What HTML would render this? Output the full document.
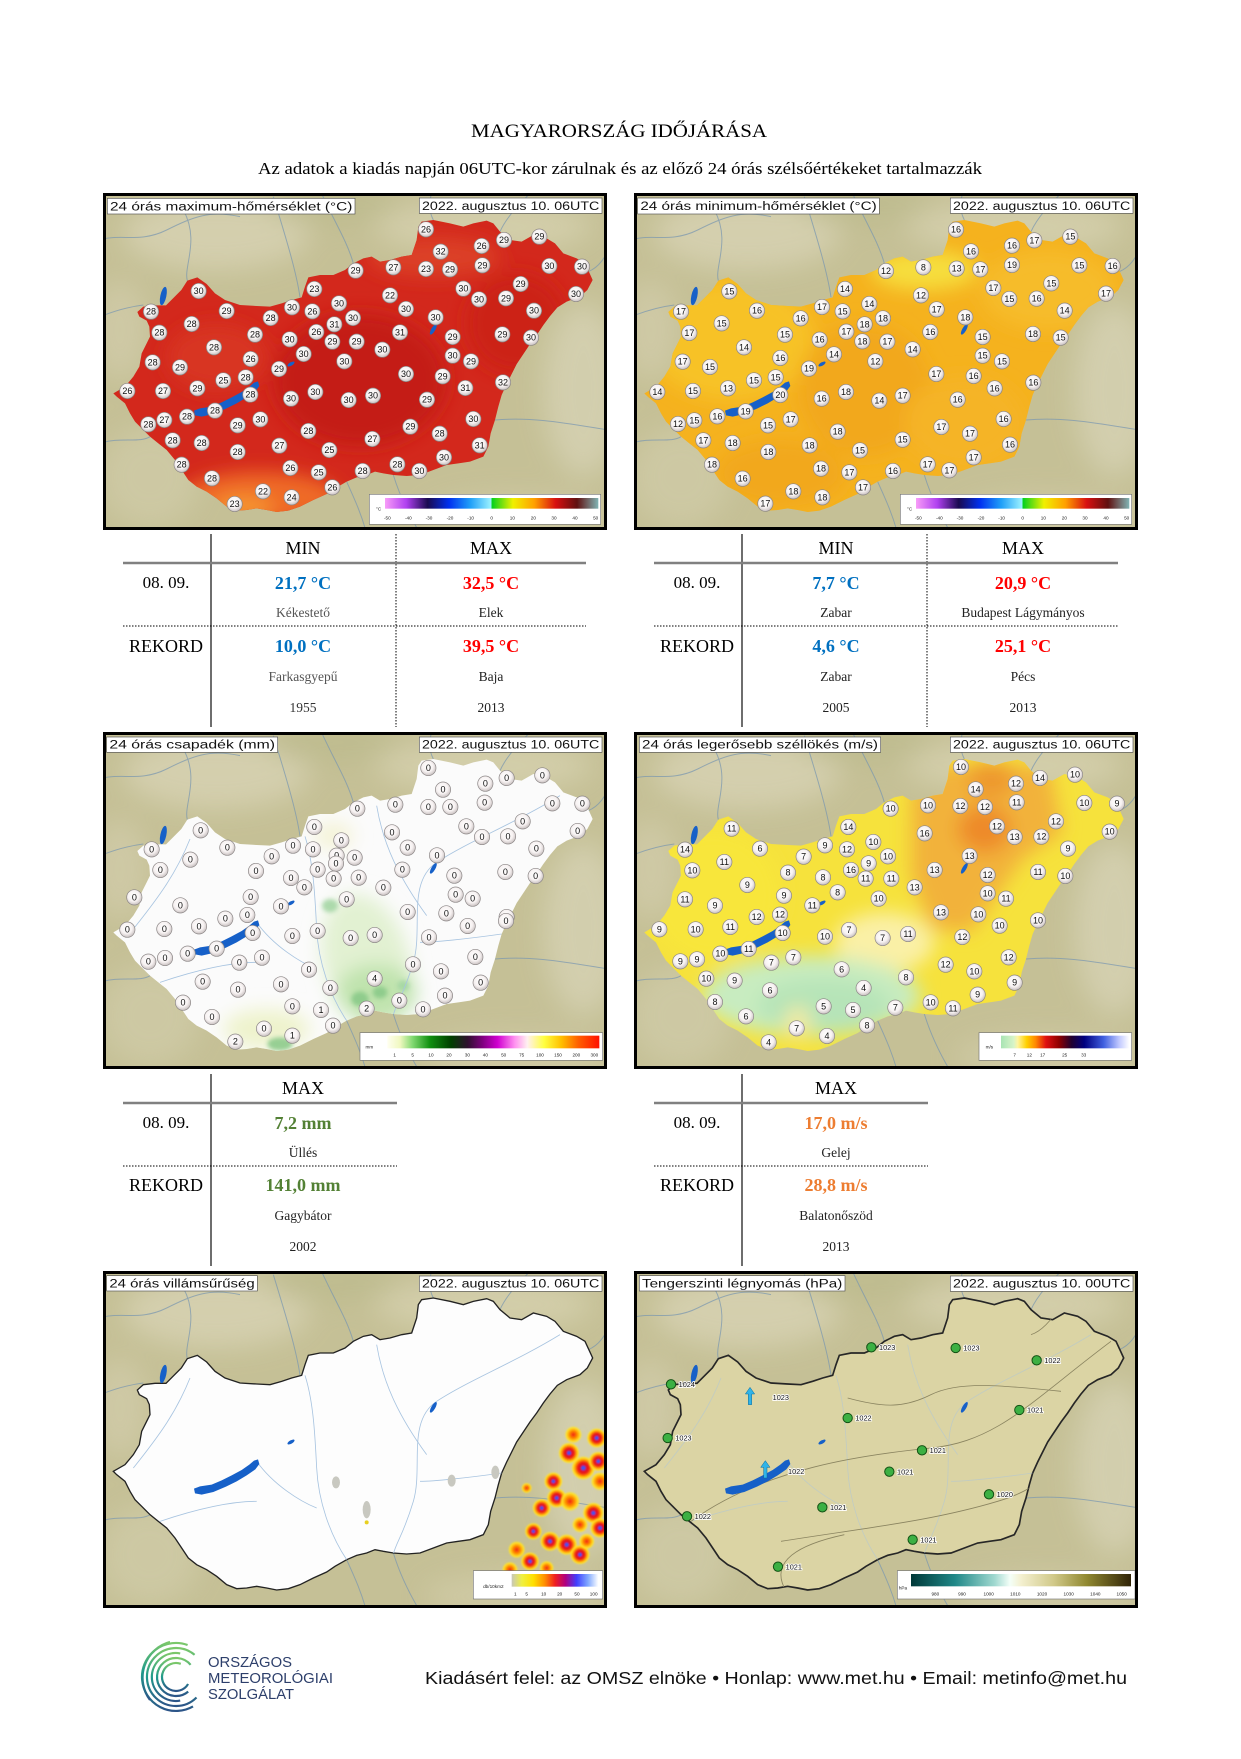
<!DOCTYPE html>
<html><head><meta charset="utf-8">
<style>
html,body{margin:0;padding:0;background:#fff}
body{width:1241px;height:1754px;overflow:hidden}
svg text{font-family:"Liberation Sans",sans-serif}
.sf{font-family:"Liberation Serif",serif}
.st circle{fill:url(#sg);stroke:#8a8585;stroke-width:2}
.st text{font-size:27px;text-anchor:middle;fill:#111}
.tb{fill:#fff;stroke:#555;stroke-width:2}
.tt{font-size:37px;fill:#111}
.lg{font-size:14px;fill:#222;text-anchor:middle}
.pr circle{fill:#3cb043;stroke:#145214;stroke-width:3}
.pr text{font-size:22px;fill:#111;stroke:#fff;stroke-width:5;paint-order:stroke}
.tc{text-anchor:middle}
</style></head><body>
<svg width="1241" height="1754" viewBox="0 0 1241 1754" xmlns="http://www.w3.org/2000/svg">
<defs>
<path id="hu" d="M40,610 L75,590 100,560 118,530 125,490 140,460 150,440 148,410 140,392 118,380 112,366 130,350 165,346 198,346 222,322 244,300 262,272 292,262 320,282 345,310 375,330 420,345 470,348 510,350 545,340 575,330 605,322 615,290 625,262 660,255 700,255 735,240 760,220 790,205 815,200 840,215 870,210 905,200 935,195 950,150 955,110 965,95 1000,90 1050,100 1090,110 1120,100 1160,92 1180,100 1200,125 1230,150 1265,155 1300,135 1340,145 1365,160 1390,190 1430,205 1455,220 1468,248 1478,270 1462,300 1440,320 1400,335 1372,352 1350,378 1330,405 1310,435 1290,462 1270,492 1250,522 1235,552 1220,582 1205,615 1195,650 1185,690 1172,730 1165,770 1150,800 1110,815 1075,820 1040,825 1000,840 960,855 920,858 880,855 850,850 825,845 800,855 770,862 740,875 705,895 680,912 640,930 600,950 565,962 530,966 500,960 470,955 440,960 410,962 380,950 350,925 320,905 290,890 265,870 245,840 225,810 200,780 175,760 150,740 125,715 105,695 90,670 75,640 50,620 Z"/>
<clipPath id="cl"><use href="#hu"/></clipPath>
<filter id="bl" x="-50%" y="-50%" width="200%" height="200%"><feGaussianBlur stdDeviation="28"/></filter>
<filter id="bl2" x="-50%" y="-50%" width="200%" height="200%"><feGaussianBlur stdDeviation="40"/></filter>
<filter id="bl3" x="-50%" y="-50%" width="200%" height="200%"><feGaussianBlur stdDeviation="6"/></filter>
<filter id="bl4" x="-50%" y="-50%" width="200%" height="200%"><feGaussianBlur stdDeviation="2.5"/></filter>
<radialGradient id="sg" cx="45%" cy="40%" r="60%"><stop offset="0" stop-color="#ffffff"/><stop offset=".6" stop-color="#f7f2f2"/><stop offset="1" stop-color="#c9c1c1"/></radialGradient>
<radialGradient id="storm"><stop offset="0" stop-color="#5070ff"/><stop offset=".14" stop-color="#3048e8"/><stop offset=".24" stop-color="#d81030"/><stop offset=".48" stop-color="#f02010"/><stop offset=".68" stop-color="#ff9a00"/><stop offset=".86" stop-color="#ffe428"/><stop offset="1" stop-color="#ffe428" stop-opacity="0"/></radialGradient>
<radialGradient id="storm2"><stop offset="0" stop-color="#f02010"/><stop offset=".45" stop-color="#ff9000"/><stop offset=".8" stop-color="#ffe428"/><stop offset="1" stop-color="#ffe428" stop-opacity="0"/></radialGradient>
<linearGradient id="gT"><stop offset="0" stop-color="#f89cf8"/><stop offset=".1" stop-color="#b040f0"/><stop offset=".2" stop-color="#1a0a50"/><stop offset=".3" stop-color="#0030f0"/><stop offset=".4" stop-color="#20a0f8"/><stop offset=".5" stop-color="#a0f4ff"/><stop offset=".5" stop-color="#00d020"/><stop offset=".6" stop-color="#f0f000"/><stop offset=".7" stop-color="#ffa000"/><stop offset=".8" stop-color="#d81010"/><stop offset=".9" stop-color="#601010"/><stop offset="1" stop-color="#80b4b4"/></linearGradient>
<linearGradient id="gP"><stop offset="0" stop-color="#fffff0"/><stop offset=".06" stop-color="#f0f8c0"/><stop offset=".12" stop-color="#80d870"/><stop offset=".2" stop-color="#109010"/><stop offset=".3" stop-color="#004000"/><stop offset=".38" stop-color="#301030"/><stop offset=".45" stop-color="#800080"/><stop offset=".52" stop-color="#d000d0"/><stop offset=".6" stop-color="#ff90f0"/><stop offset=".66" stop-color="#fff0f0"/><stop offset=".74" stop-color="#ffff40"/><stop offset=".82" stop-color="#ffc000"/><stop offset=".9" stop-color="#ff6000"/><stop offset="1" stop-color="#ff1000"/></linearGradient>
<linearGradient id="gW"><stop offset="0" stop-color="#a8e4b4"/><stop offset=".1" stop-color="#d8f4c8"/><stop offset=".13" stop-color="#fff4a0"/><stop offset=".2" stop-color="#ffd000"/><stop offset=".27" stop-color="#ff8800"/><stop offset=".35" stop-color="#e01010"/><stop offset=".45" stop-color="#900000"/><stop offset=".55" stop-color="#200030"/><stop offset=".65" stop-color="#000080"/><stop offset=".8" stop-color="#4060e0"/><stop offset=".92" stop-color="#c0c8ff"/><stop offset="1" stop-color="#ffffff"/></linearGradient>
<linearGradient id="gL"><stop offset="0" stop-color="#c8c8b8"/><stop offset=".12" stop-color="#f0f040"/><stop offset=".25" stop-color="#ffe000"/><stop offset=".38" stop-color="#ff9000"/><stop offset=".5" stop-color="#f02020"/><stop offset=".62" stop-color="#b00080"/><stop offset=".75" stop-color="#4040ff"/><stop offset=".88" stop-color="#80a8ff"/><stop offset="1" stop-color="#ffffff"/></linearGradient>
<linearGradient id="gH"><stop offset="0" stop-color="#003838"/><stop offset=".2" stop-color="#208888"/><stop offset=".38" stop-color="#a0d8d0"/><stop offset=".45" stop-color="#f4fff8"/><stop offset=".5" stop-color="#f4f0d0"/><stop offset=".65" stop-color="#d0c888"/><stop offset=".8" stop-color="#908830"/><stop offset="1" stop-color="#302408"/></linearGradient>
<linearGradient id="logo" x1="0" y1="0" x2="0" y2="1"><stop offset="0" stop-color="#7cc86a"/><stop offset=".5" stop-color="#1f9a8c"/><stop offset="1" stop-color="#2c5488"/></linearGradient>
<g id="terr">
<rect x="0" y="0" width="1530" height="1030" fill="#c5c096"/>
<g filter="url(#bl2)" opacity=".85">
<ellipse cx="350" cy="130" rx="280" ry="110" fill="#d7d2b2"/>
<ellipse cx="1150" cy="110" rx="330" ry="80" fill="#d5d0ad"/>
<ellipse cx="1450" cy="600" rx="120" ry="260" fill="#d5d1b2"/>
<ellipse cx="1250" cy="985" rx="280" ry="70" fill="#d0cba6"/>
<ellipse cx="150" cy="860" rx="150" ry="150" fill="#cfcaa6"/>
<ellipse cx="60" cy="420" rx="80" ry="150" fill="#d0cba8"/>
<ellipse cx="700" cy="40" rx="200" ry="60" fill="#bdbb8e"/>
</g>
<g fill="none" stroke="#7896b0" stroke-width="3" opacity=".7">
<path d="M0,150 C60,130 120,160 200,120 S330,60 420,80"/>
<path d="M0,380 C50,360 90,350 130,345"/>
<path d="M600,322 C590,250 560,150 520,20"/>
<path d="M760,220 C740,150 700,90 660,0"/>
<path d="M1465,245 C1500,230 1515,200 1525,180"/>
<path d="M1185,690 C1300,680 1400,700 1525,720"/>
<path d="M740,875 C760,920 780,960 800,1030"/>
<path d="M0,760 C60,740 120,760 150,740"/>
<path d="M1000,90 C980,50 990,20 1000,0"/>
<path d="M250,60 C300,150 250,230 262,272"/>
<path d="M880,855 C900,920 930,980 960,1030"/>
<path d="M1200,125 C1220,80 1260,40 1300,0"/>
</g>
</g>
<g id="irv" fill="none" stroke="#a8c4e0" stroke-width="2.5">
<path d="M615,322 C640,400 645,500 650,600 S690,800 740,875"/>
<path d="M1380,200 C1250,280 1100,340 1010,400 S970,600 940,700 S890,820 880,858"/>
<path d="M100,600 C180,500 230,430 270,330"/>
<path d="M1205,615 C1100,630 1000,640 960,640"/>
<path d="M470,580 C520,650 600,700 650,720"/>
<path d="M830,230 C850,350 900,450 980,560"/>
<path d="M180,760 C300,720 400,700 470,700"/>
</g>
<g id="lakes" fill="#1660c8">
<path d="M282,662 L300,655 335,650 365,637 395,622 425,606 448,590 462,578 474,574 478,588 466,604 440,622 410,640 378,656 340,672 305,680 285,676 Z"/>
<ellipse cx="190" cy="318" rx="9" ry="28" transform="rotate(12 190 318)"/>
<ellipse cx="573" cy="522" rx="12" ry="5" transform="rotate(-30 573 522)"/>
<ellipse cx="1000" cy="418" rx="6" ry="18" transform="rotate(30 1000 418)"/>
</g>
<g id="legT">
<rect x="808" y="913" width="694" height="90" fill="#fff" stroke="#777" stroke-width="2"/>
<rect x="855" y="924" width="640" height="32" fill="url(#gT)"/>
<text class="lg" x="836" y="962">°C</text>
<text class="lg" x="862" y="988">-50</text><text class="lg" x="925" y="988">-40</text><text class="lg" x="987" y="988">-30</text><text class="lg" x="1050" y="988">-20</text><text class="lg" x="1112" y="988">-10</text><text class="lg" x="1175" y="988">0</text><text class="lg" x="1237" y="988">10</text><text class="lg" x="1300" y="988">20</text><text class="lg" x="1362" y="988">30</text><text class="lg" x="1425" y="988">40</text><text class="lg" x="1487" y="988">50</text>
</g>
<g id="rbox"><rect class="tb" x="958" y="24" width="548" height="46"/></g>
<rect id="frame" x="9" y="9" width="1512" height="1011" fill="none" stroke="#000" stroke-width="18"/>
</defs>

<!-- Titles -->
<text class="sf tc" x="619" y="137" font-size="19" textLength="296" lengthAdjust="spacingAndGlyphs">MAGYARORSZÁG IDŐJÁRÁSA</text>
<text class="sf tc" x="620" y="174" font-size="16.5" textLength="724" lengthAdjust="spacingAndGlyphs">Az adatok a kiadás napján 06UTC-kor zárulnak és az előző 24 órás szélsőértékeket tartalmazzák</text>

<!-- MAP 1 : max temp -->
<svg x="103" y="193" width="504" height="337" viewBox="9 9 1512 1011" preserveAspectRatio="none">
<use href="#terr"/>
<g clip-path="url(#cl)">
<rect x="0" y="0" width="1530" height="1030" fill="#d3281c"/>
<g filter="url(#bl)">
<ellipse cx="780" cy="570" rx="260" ry="200" fill="#c41c16"/>
<ellipse cx="1250" cy="400" rx="150" ry="150" fill="#cc2018"/>
<ellipse cx="480" cy="925" rx="240" ry="80" fill="#ef6a26"/>
<ellipse cx="430" cy="955" rx="90" ry="40" fill="#f59432"/>
<ellipse cx="1000" cy="200" rx="200" ry="60" fill="#dc4028"/>
<ellipse cx="350" cy="500" rx="150" ry="100" fill="#d83420"/>
</g>
</g>
<use href="#lakes"/>
<g class="st">
<circle cx="978" cy="118" r="23"/><text x="978" y="127">26</text><circle cx="1022" cy="185" r="23"/><text x="1022" y="194">32</text><circle cx="1145" cy="168" r="23"/><text x="1145" y="177">26</text><circle cx="1212" cy="150" r="23"/><text x="1212" y="159">29</text><circle cx="1318" cy="140" r="23"/><text x="1318" y="149">29</text>
<circle cx="767" cy="242" r="23"/><text x="767" y="251">29</text><circle cx="880" cy="232" r="23"/><text x="880" y="241">27</text><circle cx="978" cy="237" r="23"/><text x="978" y="246">23</text><circle cx="1050" cy="238" r="23"/><text x="1050" y="247">29</text><circle cx="1147" cy="226" r="23"/><text x="1147" y="235">29</text><circle cx="1348" cy="228" r="23"/><text x="1348" y="237">30</text><circle cx="1446" cy="230" r="23"/><text x="1446" y="239">30</text>
<circle cx="643" cy="297" r="23"/><text x="643" y="306">23</text><circle cx="870" cy="316" r="23"/><text x="870" y="325">22</text><circle cx="1090" cy="296" r="23"/><text x="1090" y="305">30</text><circle cx="1137" cy="328" r="23"/><text x="1137" y="337">30</text><circle cx="1218" cy="325" r="23"/><text x="1218" y="334">29</text><circle cx="1262" cy="282" r="23"/><text x="1262" y="291">29</text><circle cx="1428" cy="312" r="23"/><text x="1428" y="321">30</text>
<circle cx="296" cy="303" r="23"/><text x="296" y="312">30</text><circle cx="380" cy="363" r="23"/><text x="380" y="372">29</text><circle cx="153" cy="365" r="23"/><text x="153" y="374">28</text><circle cx="512" cy="384" r="23"/><text x="512" y="393">28</text><circle cx="576" cy="352" r="23"/><text x="576" y="361">30</text><circle cx="637" cy="364" r="23"/><text x="637" y="373">26</text><circle cx="717" cy="340" r="23"/><text x="717" y="349">30</text><circle cx="759" cy="384" r="23"/><text x="759" y="393">30</text><circle cx="703" cy="403" r="23"/><text x="703" y="412">31</text><circle cx="918" cy="357" r="23"/><text x="918" y="366">30</text><circle cx="1007" cy="382" r="23"/><text x="1007" y="391">30</text><circle cx="1302" cy="362" r="23"/><text x="1302" y="371">30</text>
<circle cx="275" cy="402" r="23"/><text x="275" y="411">28</text><circle cx="178" cy="428" r="23"/><text x="178" y="437">28</text><circle cx="465" cy="434" r="23"/><text x="465" y="443">28</text><circle cx="342" cy="472" r="23"/><text x="342" y="481">28</text><circle cx="569" cy="448" r="23"/><text x="569" y="457">30</text><circle cx="649" cy="426" r="23"/><text x="649" y="435">26</text><circle cx="697" cy="455" r="23"/><text x="697" y="464">29</text><circle cx="770" cy="455" r="23"/><text x="770" y="464">29</text><circle cx="900" cy="427" r="23"/><text x="900" y="436">31</text><circle cx="1058" cy="441" r="23"/><text x="1058" y="450">29</text><circle cx="1207" cy="433" r="23"/><text x="1207" y="442">29</text><circle cx="1293" cy="443" r="23"/><text x="1293" y="452">30</text>
<circle cx="158" cy="517" r="23"/><text x="158" y="526">28</text><circle cx="240" cy="532" r="23"/><text x="240" y="541">29</text><circle cx="452" cy="507" r="23"/><text x="452" y="516">26</text><circle cx="537" cy="537" r="23"/><text x="537" y="546">29</text><circle cx="611" cy="492" r="23"/><text x="611" y="501">30</text><circle cx="733" cy="514" r="23"/><text x="733" y="523">30</text><circle cx="847" cy="479" r="23"/><text x="847" y="488">30</text><circle cx="1058" cy="497" r="23"/><text x="1058" y="506">30</text><circle cx="1113" cy="514" r="23"/><text x="1113" y="523">29</text>
<circle cx="82" cy="603" r="23"/><text x="82" y="612">26</text><circle cx="189" cy="603" r="23"/><text x="189" y="612">27</text><circle cx="292" cy="595" r="23"/><text x="292" y="604">29</text><circle cx="370" cy="571" r="23"/><text x="370" y="580">25</text><circle cx="437" cy="562" r="23"/><text x="437" y="571">28</text><circle cx="451" cy="614" r="23"/><text x="451" y="623">28</text><circle cx="573" cy="626" r="23"/><text x="573" y="635">30</text><circle cx="646" cy="606" r="23"/><text x="646" y="615">30</text><circle cx="746" cy="630" r="23"/><text x="746" y="639">30</text><circle cx="819" cy="617" r="23"/><text x="819" y="626">30</text><circle cx="918" cy="552" r="23"/><text x="918" y="561">30</text><circle cx="1028" cy="559" r="23"/><text x="1028" y="568">29</text><circle cx="981" cy="629" r="23"/><text x="981" y="638">29</text><circle cx="1096" cy="594" r="23"/><text x="1096" y="603">31</text><circle cx="1209" cy="577" r="23"/><text x="1209" y="586">32</text>
<circle cx="145" cy="703" r="23"/><text x="145" y="712">28</text><circle cx="193" cy="690" r="23"/><text x="193" y="699">27</text><circle cx="261" cy="680" r="23"/><text x="261" y="689">28</text><circle cx="345" cy="662" r="23"/><text x="345" y="671">28</text><circle cx="413" cy="706" r="23"/><text x="413" y="715">29</text><circle cx="481" cy="688" r="23"/><text x="481" y="697">30</text><circle cx="625" cy="723" r="23"/><text x="625" y="732">28</text><circle cx="817" cy="747" r="23"/><text x="817" y="756">27</text><circle cx="931" cy="710" r="23"/><text x="931" y="719">29</text><circle cx="1019" cy="731" r="23"/><text x="1019" y="740">28</text><circle cx="1120" cy="687" r="23"/><text x="1120" y="696">30</text>
<circle cx="218" cy="751" r="23"/><text x="218" y="760">28</text><circle cx="305" cy="759" r="23"/><text x="305" y="768">28</text><circle cx="413" cy="786" r="23"/><text x="413" y="795">28</text><circle cx="538" cy="767" r="23"/><text x="538" y="776">27</text><circle cx="688" cy="780" r="23"/><text x="688" y="789">25</text><circle cx="1139" cy="766" r="23"/><text x="1139" y="775">31</text><circle cx="1032" cy="802" r="23"/><text x="1032" y="811">30</text>
<circle cx="245" cy="824" r="23"/><text x="245" y="833">28</text><circle cx="336" cy="865" r="23"/><text x="336" y="874">28</text><circle cx="571" cy="834" r="23"/><text x="571" y="843">26</text><circle cx="656" cy="847" r="23"/><text x="656" y="856">25</text><circle cx="788" cy="843" r="23"/><text x="788" y="852">28</text><circle cx="892" cy="823" r="23"/><text x="892" y="832">28</text><circle cx="958" cy="843" r="23"/><text x="958" y="852">30</text>
<circle cx="697" cy="892" r="23"/><text x="697" y="901">26</text><circle cx="489" cy="904" r="23"/><text x="489" y="913">22</text><circle cx="575" cy="922" r="23"/><text x="575" y="931">24</text><circle cx="404" cy="942" r="23"/><text x="404" y="951">23</text>
</g>
<rect class="tb" x="22" y="25" width="743" height="47"/><text class="tt" x="30" y="61" textLength="727" lengthAdjust="spacingAndGlyphs">24 órás maximum-hőmérséklet (°C)</text>
<use href="#rbox"/><text class="tt" x="966" y="60" textLength="532" lengthAdjust="spacingAndGlyphs">2022. augusztus 10. 06UTC</text>
<use href="#legT"/>
<use href="#frame"/>
</svg>

<!-- MAP 2 : min temp -->
<svg x="634" y="193" width="504" height="337" viewBox="9 9 1512 1011" preserveAspectRatio="none">
<use href="#terr"/>
<g clip-path="url(#cl)">
<rect x="0" y="0" width="1530" height="1030" fill="#f5b21e"/>
<g filter="url(#bl)">
<ellipse cx="300" cy="450" rx="250" ry="180" fill="#f7c226"/>
<ellipse cx="880" cy="240" rx="160" ry="60" fill="#f6de3c"/>
<ellipse cx="1250" cy="300" rx="200" ry="120" fill="#f6bc2c"/>
<ellipse cx="700" cy="600" rx="200" ry="200" fill="#f2a81e"/>
<ellipse cx="450" cy="850" rx="200" ry="100" fill="#f2a81c"/>
<ellipse cx="1000" cy="700" rx="180" ry="140" fill="#f5b426"/>
</g>
</g>
<use href="#lakes"/>
<g class="st">
<circle cx="975" cy="119" r="23"/><text x="975" y="128">16</text><circle cx="1143" cy="167" r="23"/><text x="1143" y="176">16</text><circle cx="1210" cy="151" r="23"/><text x="1210" y="160">17</text><circle cx="1318" cy="140" r="23"/><text x="1318" y="149">15</text><circle cx="1020" cy="184" r="23"/><text x="1020" y="193">16</text>
<circle cx="765" cy="243" r="23"/><text x="765" y="252">12</text><circle cx="877" cy="232" r="23"/><text x="877" y="241">8</text><circle cx="977" cy="236" r="23"/><text x="977" y="245">13</text><circle cx="1048" cy="238" r="23"/><text x="1048" y="247">17</text><circle cx="1143" cy="225" r="23"/><text x="1143" y="234">19</text><circle cx="1345" cy="226" r="23"/><text x="1345" y="235">15</text><circle cx="1445" cy="228" r="23"/><text x="1445" y="237">16</text>
<circle cx="295" cy="304" r="23"/><text x="295" y="313">15</text><circle cx="642" cy="297" r="23"/><text x="642" y="306">14</text><circle cx="870" cy="316" r="23"/><text x="870" y="325">12</text><circle cx="1087" cy="294" r="23"/><text x="1087" y="303">17</text><circle cx="1261" cy="280" r="23"/><text x="1261" y="289">15</text><circle cx="1425" cy="311" r="23"/><text x="1425" y="320">17</text>
<circle cx="150" cy="365" r="23"/><text x="150" y="374">17</text><circle cx="378" cy="362" r="23"/><text x="378" y="371">16</text><circle cx="573" cy="351" r="23"/><text x="573" y="360">17</text><circle cx="635" cy="364" r="23"/><text x="635" y="373">15</text><circle cx="715" cy="342" r="23"/><text x="715" y="351">14</text><circle cx="917" cy="358" r="23"/><text x="917" y="367">17</text><circle cx="1135" cy="327" r="23"/><text x="1135" y="336">15</text><circle cx="1217" cy="326" r="23"/><text x="1217" y="335">16</text><circle cx="1301" cy="362" r="23"/><text x="1301" y="371">14</text>
<circle cx="272" cy="400" r="23"/><text x="272" y="409">15</text><circle cx="175" cy="429" r="23"/><text x="175" y="438">17</text><circle cx="509" cy="385" r="23"/><text x="509" y="394">16</text><circle cx="462" cy="434" r="23"/><text x="462" y="443">15</text><circle cx="701" cy="403" r="23"/><text x="701" y="412">18</text><circle cx="756" cy="385" r="23"/><text x="756" y="394">18</text><circle cx="1003" cy="382" r="23"/><text x="1003" y="391">18</text><circle cx="566" cy="449" r="23"/><text x="566" y="458">16</text><circle cx="646" cy="425" r="23"/><text x="646" y="434">17</text><circle cx="694" cy="454" r="23"/><text x="694" y="463">18</text><circle cx="769" cy="455" r="23"/><text x="769" y="464">17</text><circle cx="898" cy="426" r="23"/><text x="898" y="435">16</text><circle cx="1055" cy="441" r="23"/><text x="1055" y="450">15</text><circle cx="1206" cy="432" r="23"/><text x="1206" y="441">18</text><circle cx="1289" cy="443" r="23"/><text x="1289" y="452">15</text>
<circle cx="339" cy="472" r="23"/><text x="339" y="481">14</text><circle cx="155" cy="515" r="23"/><text x="155" y="524">17</text><circle cx="237" cy="531" r="23"/><text x="237" y="540">15</text><circle cx="448" cy="504" r="23"/><text x="448" y="513">16</text><circle cx="609" cy="493" r="23"/><text x="609" y="502">14</text><circle cx="733" cy="514" r="23"/><text x="733" y="523">12</text><circle cx="845" cy="478" r="23"/><text x="845" y="487">14</text><circle cx="1055" cy="497" r="23"/><text x="1055" y="506">15</text><circle cx="1113" cy="514" r="23"/><text x="1113" y="523">15</text><circle cx="534" cy="536" r="23"/><text x="534" y="545">19</text>
<circle cx="79" cy="606" r="23"/><text x="79" y="615">14</text><circle cx="186" cy="603" r="23"/><text x="186" y="612">15</text><circle cx="291" cy="595" r="23"/><text x="291" y="604">13</text><circle cx="369" cy="571" r="23"/><text x="369" y="580">15</text><circle cx="434" cy="562" r="23"/><text x="434" y="571">15</text><circle cx="448" cy="615" r="23"/><text x="448" y="624">20</text><circle cx="572" cy="626" r="23"/><text x="572" y="635">16</text><circle cx="645" cy="606" r="23"/><text x="645" y="615">18</text><circle cx="745" cy="632" r="23"/><text x="745" y="641">14</text><circle cx="815" cy="617" r="23"/><text x="815" y="626">17</text><circle cx="916" cy="552" r="23"/><text x="916" y="561">17</text><circle cx="1028" cy="558" r="23"/><text x="1028" y="567">16</text><circle cx="980" cy="629" r="23"/><text x="980" y="638">16</text><circle cx="1091" cy="595" r="23"/><text x="1091" y="604">16</text><circle cx="1207" cy="578" r="23"/><text x="1207" y="587">16</text>
<circle cx="141" cy="702" r="23"/><text x="141" y="711">12</text><circle cx="190" cy="691" r="23"/><text x="190" y="700">15</text><circle cx="259" cy="679" r="23"/><text x="259" y="688">16</text><circle cx="344" cy="664" r="23"/><text x="344" y="673">19</text><circle cx="411" cy="706" r="23"/><text x="411" y="715">15</text><circle cx="479" cy="688" r="23"/><text x="479" y="697">17</text><circle cx="620" cy="725" r="23"/><text x="620" y="734">18</text><circle cx="815" cy="749" r="23"/><text x="815" y="758">15</text><circle cx="931" cy="711" r="23"/><text x="931" y="720">17</text><circle cx="1017" cy="731" r="23"/><text x="1017" y="740">17</text><circle cx="1118" cy="687" r="23"/><text x="1118" y="696">16</text>
<circle cx="217" cy="751" r="23"/><text x="217" y="760">17</text><circle cx="305" cy="759" r="23"/><text x="305" y="768">18</text><circle cx="412" cy="786" r="23"/><text x="412" y="795">18</text><circle cx="536" cy="766" r="23"/><text x="536" y="775">18</text><circle cx="687" cy="781" r="23"/><text x="687" y="790">15</text><circle cx="1137" cy="764" r="23"/><text x="1137" y="773">16</text><circle cx="1028" cy="802" r="23"/><text x="1028" y="811">17</text>
<circle cx="243" cy="824" r="23"/><text x="243" y="833">18</text><circle cx="335" cy="866" r="23"/><text x="335" y="875">16</text><circle cx="570" cy="836" r="23"/><text x="570" y="845">18</text><circle cx="655" cy="847" r="23"/><text x="655" y="856">17</text><circle cx="786" cy="843" r="23"/><text x="786" y="852">16</text><circle cx="890" cy="823" r="23"/><text x="890" y="832">17</text><circle cx="955" cy="841" r="23"/><text x="955" y="850">17</text>
<circle cx="696" cy="892" r="23"/><text x="696" y="901">17</text><circle cx="487" cy="904" r="23"/><text x="487" y="913">18</text><circle cx="574" cy="922" r="23"/><text x="574" y="931">18</text><circle cx="403" cy="941" r="23"/><text x="403" y="950">17</text>
</g>
<rect class="tb" x="20" y="24" width="725" height="48"/><text class="tt" x="28" y="60" textLength="709" lengthAdjust="spacingAndGlyphs">24 órás minimum-hőmérséklet (°C)</text>
<use href="#rbox"/><text class="tt" x="966" y="60" textLength="532" lengthAdjust="spacingAndGlyphs">2022. augusztus 10. 06UTC</text>
<use href="#legT"/>
<use href="#frame"/>
</svg>

<!-- MAP 3 : precipitation -->
<svg x="103" y="732" width="504" height="337" viewBox="9 9 1512 1011" preserveAspectRatio="none">
<use href="#terr"/>
<g clip-path="url(#cl)">
<rect x="0" y="0" width="1530" height="1030" fill="#fbfbfb"/>
<g filter="url(#bl)">
<ellipse cx="800" cy="700" rx="130" ry="210" fill="#e2f1d2" transform="rotate(-15 800 700)"/>
<ellipse cx="830" cy="790" rx="120" ry="85" fill="#bfe3ad"/>
<ellipse cx="500" cy="900" rx="130" ry="60" fill="#eef3cc"/>
<ellipse cx="700" cy="320" rx="60" ry="40" fill="#f4f3d6"/>
</g>
<g filter="url(#bl3)" opacity=".85">
<ellipse cx="780" cy="810" rx="26" ry="22" fill="#86c886"/>
<ellipse cx="840" cy="790" rx="22" ry="18" fill="#86c886"/>
<ellipse cx="690" cy="530" rx="24" ry="20" fill="#a0d4a0"/>
<ellipse cx="540" cy="945" rx="38" ry="20" fill="#86c886"/>
<ellipse cx="910" cy="770" rx="18" ry="16" fill="#a2d6a2"/>
</g>
<use href="#irv"/>
</g>
<use href="#lakes"/>
<g class="st">
<circle cx="985" cy="117" r="23"/><text x="985" y="126">0</text><circle cx="1156" cy="164" r="23"/><text x="1156" y="173">0</text><circle cx="1220" cy="147" r="23"/><text x="1220" y="156">0</text><circle cx="1327" cy="139" r="23"/><text x="1327" y="148">0</text><circle cx="1029" cy="182" r="23"/><text x="1029" y="191">0</text><circle cx="1154" cy="221" r="23"/><text x="1154" y="230">0</text><circle cx="1447" cy="224" r="23"/><text x="1447" y="233">0</text><circle cx="772" cy="239" r="23"/><text x="772" y="248">0</text><circle cx="886" cy="227" r="23"/><text x="886" y="236">0</text><circle cx="985" cy="234" r="23"/><text x="985" y="243">0</text><circle cx="1051" cy="234" r="23"/><text x="1051" y="243">0</text><circle cx="1357" cy="223" r="23"/><text x="1357" y="232">0</text>
<circle cx="1099" cy="292" r="23"/><text x="1099" y="301">0</text><circle cx="1268" cy="277" r="23"/><text x="1268" y="286">0</text><circle cx="1433" cy="306" r="23"/><text x="1433" y="315">0</text><circle cx="1146" cy="324" r="23"/><text x="1146" y="333">0</text><circle cx="1224" cy="322" r="23"/><text x="1224" y="331">0</text><circle cx="876" cy="310" r="23"/><text x="876" y="319">0</text><circle cx="923" cy="356" r="23"/><text x="923" y="365">0</text><circle cx="643" cy="294" r="23"/><text x="643" y="303">0</text><circle cx="724" cy="334" r="23"/><text x="724" y="343">0</text><circle cx="302" cy="304" r="23"/><text x="302" y="313">0</text><circle cx="382" cy="356" r="23"/><text x="382" y="365">0</text><circle cx="579" cy="350" r="23"/><text x="579" y="359">0</text><circle cx="639" cy="361" r="23"/><text x="639" y="370">0</text><circle cx="710" cy="380" r="23"/><text x="710" y="389">0</text><circle cx="764" cy="386" r="23"/><text x="764" y="395">0</text><circle cx="515" cy="382" r="23"/><text x="515" y="391">0</text><circle cx="155" cy="361" r="23"/><text x="155" y="370">0</text>
<circle cx="271" cy="392" r="23"/><text x="271" y="401">0</text><circle cx="181" cy="423" r="23"/><text x="181" y="432">0</text><circle cx="468" cy="426" r="23"/><text x="468" y="435">0</text><circle cx="573" cy="447" r="23"/><text x="573" y="456">0</text><circle cx="653" cy="422" r="23"/><text x="653" y="431">0</text><circle cx="708" cy="404" r="23"/><text x="708" y="413">0</text><circle cx="776" cy="446" r="23"/><text x="776" y="455">0</text><circle cx="850" cy="476" r="23"/><text x="850" y="485">0</text><circle cx="701" cy="449" r="23"/><text x="701" y="458">0</text><circle cx="613" cy="475" r="23"/><text x="613" y="484">0</text><circle cx="1011" cy="379" r="23"/><text x="1011" y="388">0</text><circle cx="907" cy="422" r="23"/><text x="907" y="431">0</text><circle cx="1063" cy="440" r="23"/><text x="1063" y="449">0</text><circle cx="1216" cy="429" r="23"/><text x="1216" y="438">0</text><circle cx="1307" cy="441" r="23"/><text x="1307" y="450">0</text><circle cx="1309" cy="359" r="23"/><text x="1309" y="368">0</text>
<circle cx="103" cy="505" r="23"/><text x="103" y="514">0</text><circle cx="241" cy="529" r="23"/><text x="241" y="538">0</text><circle cx="452" cy="504" r="23"/><text x="452" y="513">0</text><circle cx="543" cy="532" r="23"/><text x="543" y="541">0</text><circle cx="740" cy="511" r="23"/><text x="740" y="520">0</text><circle cx="1067" cy="497" r="23"/><text x="1067" y="506">0</text><circle cx="1118" cy="509" r="23"/><text x="1118" y="518">0</text><circle cx="923" cy="549" r="23"/><text x="923" y="558">0</text><circle cx="1039" cy="553" r="23"/><text x="1039" y="562">0</text><circle cx="1220" cy="564" r="23"/><text x="1220" y="573">0</text>
<circle cx="82" cy="602" r="23"/><text x="82" y="611">0</text><circle cx="193" cy="600" r="23"/><text x="193" y="609">0</text><circle cx="297" cy="592" r="23"/><text x="297" y="601">0</text><circle cx="376" cy="569" r="23"/><text x="376" y="578">0</text><circle cx="442" cy="558" r="23"/><text x="442" y="567">0</text><circle cx="458" cy="612" r="23"/><text x="458" y="621">0</text><circle cx="577" cy="621" r="23"/><text x="577" y="630">0</text><circle cx="653" cy="606" r="23"/><text x="653" y="615">0</text><circle cx="752" cy="627" r="23"/><text x="752" y="636">0</text><circle cx="824" cy="618" r="23"/><text x="824" y="627">0</text><circle cx="987" cy="625" r="23"/><text x="987" y="634">0</text><circle cx="1103" cy="591" r="23"/><text x="1103" y="600">0</text><circle cx="1218" cy="576" r="23"/><text x="1218" y="585">0</text>
<circle cx="145" cy="698" r="23"/><text x="145" y="707">0</text><circle cx="195" cy="687" r="23"/><text x="195" y="696">0</text><circle cx="263" cy="674" r="23"/><text x="263" y="683">0</text><circle cx="350" cy="659" r="23"/><text x="350" y="668">0</text><circle cx="418" cy="701" r="23"/><text x="418" y="710">0</text><circle cx="486" cy="686" r="23"/><text x="486" y="695">0</text><circle cx="627" cy="722" r="23"/><text x="627" y="731">0</text><circle cx="939" cy="706" r="23"/><text x="939" y="715">0</text><circle cx="1023" cy="727" r="23"/><text x="1023" y="736">0</text><circle cx="1126" cy="684" r="23"/><text x="1126" y="693">0</text>
<circle cx="308" cy="758" r="23"/><text x="308" y="767">0</text><circle cx="543" cy="766" r="23"/><text x="543" y="775">0</text><circle cx="691" cy="777" r="23"/><text x="691" y="786">0</text><circle cx="414" cy="782" r="23"/><text x="414" y="791">0</text><circle cx="1035" cy="800" r="23"/><text x="1035" y="809">0</text><circle cx="1142" cy="761" r="23"/><text x="1142" y="770">0</text><circle cx="824" cy="749" r="23"/><text x="824" y="758">4</text><circle cx="800" cy="839" r="23"/><text x="800" y="848">2</text><circle cx="898" cy="815" r="23"/><text x="898" y="824">0</text><circle cx="969" cy="841" r="23"/><text x="969" y="850">0</text>
<circle cx="249" cy="821" r="23"/><text x="249" y="830">0</text><circle cx="336" cy="864" r="23"/><text x="336" y="873">0</text><circle cx="577" cy="832" r="23"/><text x="577" y="841">0</text><circle cx="663" cy="843" r="23"/><text x="663" y="852">1</text><circle cx="699" cy="890" r="23"/><text x="699" y="899">0</text><circle cx="492" cy="899" r="23"/><text x="492" y="908">0</text><circle cx="577" cy="920" r="23"/><text x="577" y="929">1</text><circle cx="406" cy="938" r="23"/><text x="406" y="947">2</text>
</g>
<rect class="tb" x="20" y="24" width="513" height="46"/><text class="tt" x="28" y="59" textLength="497" lengthAdjust="spacingAndGlyphs">24 órás csapadék (mm)</text>
<use href="#rbox"/><text class="tt" x="966" y="59" textLength="532" lengthAdjust="spacingAndGlyphs">2022. augusztus 10. 06UTC</text>
<rect x="780" y="911" width="728" height="83" fill="#fff" stroke="#777" stroke-width="2"/>
<rect x="862" y="920" width="636" height="38" fill="url(#gP)"/>
<text class="lg" x="808" y="958">mm</text>
<text class="lg" x="884" y="982">1</text><text class="lg" x="938" y="982">5</text><text class="lg" x="993" y="982">10</text><text class="lg" x="1047" y="982">20</text><text class="lg" x="1102" y="982">30</text><text class="lg" x="1156" y="982">40</text><text class="lg" x="1211" y="982">50</text><text class="lg" x="1265" y="982">75</text><text class="lg" x="1320" y="982">100</text><text class="lg" x="1374" y="982">150</text><text class="lg" x="1429" y="982">200</text><text class="lg" x="1483" y="982">300</text>
<use href="#frame"/>
</svg>

<!-- MAP 4 : wind gusts -->
<svg x="634" y="732" width="504" height="337" viewBox="9 9 1512 1011" preserveAspectRatio="none">
<use href="#terr"/>
<g clip-path="url(#cl)">
<rect x="0" y="0" width="1530" height="1030" fill="#f6e23c"/>
<g filter="url(#bl)">
<path d="M849,109 L1255,109 1295,309 1175,389 1020,609 900,599 840,439 840,269 Z" fill="#f2b23a"/>
<ellipse cx="1060" cy="300" rx="80" ry="70" fill="#ee8a2a"/>
<ellipse cx="1080" cy="150" rx="70" ry="55" fill="#ee982e"/>
<ellipse cx="760" cy="640" rx="150" ry="90" fill="#faf0a6"/>
<ellipse cx="540" cy="800" rx="330" ry="120" fill="#c8ecc0"/>
<ellipse cx="580" cy="830" rx="200" ry="80" fill="#b6e4b8"/>
<ellipse cx="500" cy="880" rx="40" ry="50" fill="#f2eaa2"/>
<ellipse cx="250" cy="500" rx="200" ry="200" fill="#f8e63a"/>
</g>
</g>
<use href="#lakes"/>
<g class="st">
<circle cx="990" cy="114" r="23"/><text x="990" y="123">10</text><circle cx="1034" cy="181" r="23"/><text x="1034" y="190">14</text><circle cx="1155" cy="164" r="23"/><text x="1155" y="173">12</text><circle cx="1227" cy="147" r="23"/><text x="1227" y="156">14</text><circle cx="1332" cy="137" r="23"/><text x="1332" y="146">10</text>
<circle cx="779" cy="239" r="23"/><text x="779" y="248">10</text><circle cx="891" cy="229" r="23"/><text x="891" y="238">10</text><circle cx="988" cy="231" r="23"/><text x="988" y="240">12</text><circle cx="1062" cy="234" r="23"/><text x="1062" y="243">12</text><circle cx="1157" cy="220" r="23"/><text x="1157" y="229">11</text><circle cx="1360" cy="222" r="23"/><text x="1360" y="231">10</text><circle cx="1458" cy="224" r="23"/><text x="1458" y="233">9</text>
<circle cx="652" cy="294" r="23"/><text x="652" y="303">14</text><circle cx="881" cy="313" r="23"/><text x="881" y="322">16</text><circle cx="1098" cy="292" r="23"/><text x="1098" y="301">12</text><circle cx="1151" cy="324" r="23"/><text x="1151" y="333">13</text><circle cx="1231" cy="323" r="23"/><text x="1231" y="332">12</text><circle cx="1275" cy="277" r="23"/><text x="1275" y="286">12</text><circle cx="1436" cy="308" r="23"/><text x="1436" y="317">10</text>
<circle cx="302" cy="299" r="23"/><text x="302" y="308">11</text><circle cx="387" cy="359" r="23"/><text x="387" y="368">6</text><circle cx="518" cy="383" r="23"/><text x="518" y="392">7</text><circle cx="582" cy="349" r="23"/><text x="582" y="358">9</text><circle cx="648" cy="361" r="23"/><text x="648" y="370">12</text><circle cx="727" cy="339" r="23"/><text x="727" y="348">10</text><circle cx="771" cy="382" r="23"/><text x="771" y="391">10</text><circle cx="713" cy="403" r="23"/><text x="713" y="412">9</text><circle cx="660" cy="423" r="23"/><text x="660" y="432">16</text><circle cx="704" cy="449" r="23"/><text x="704" y="458">11</text><circle cx="781" cy="449" r="23"/><text x="781" y="458">11</text><circle cx="162" cy="362" r="23"/><text x="162" y="371">14</text><circle cx="184" cy="424" r="23"/><text x="184" y="433">10</text><circle cx="280" cy="399" r="23"/><text x="280" y="408">11</text><circle cx="471" cy="431" r="23"/><text x="471" y="440">8</text><circle cx="576" cy="445" r="23"/><text x="576" y="454">8</text><circle cx="620" cy="490" r="23"/><text x="620" y="499">8</text><circle cx="349" cy="468" r="23"/><text x="349" y="477">9</text><circle cx="459" cy="500" r="23"/><text x="459" y="509">9</text><circle cx="544" cy="529" r="23"/><text x="544" y="538">11</text><circle cx="743" cy="509" r="23"/><text x="743" y="518">10</text><circle cx="851" cy="475" r="23"/><text x="851" y="484">13</text><circle cx="911" cy="423" r="23"/><text x="911" y="432">13</text><circle cx="1016" cy="381" r="23"/><text x="1016" y="390">13</text><circle cx="1070" cy="438" r="23"/><text x="1070" y="447">12</text><circle cx="1221" cy="429" r="23"/><text x="1221" y="438">11</text><circle cx="1311" cy="359" r="23"/><text x="1311" y="368">9</text><circle cx="1303" cy="441" r="23"/><text x="1303" y="450">10</text>
<circle cx="162" cy="511" r="23"/><text x="162" y="520">11</text><circle cx="252" cy="530" r="23"/><text x="252" y="539">9</text><circle cx="377" cy="564" r="23"/><text x="377" y="573">12</text><circle cx="447" cy="557" r="23"/><text x="447" y="566">12</text><circle cx="930" cy="550" r="23"/><text x="930" y="559">13</text><circle cx="1070" cy="493" r="23"/><text x="1070" y="502">10</text><circle cx="1125" cy="509" r="23"/><text x="1125" y="518">11</text><circle cx="1042" cy="556" r="23"/><text x="1042" y="565">10</text>
<circle cx="85" cy="601" r="23"/><text x="85" y="610">9</text><circle cx="194" cy="601" r="23"/><text x="194" y="610">10</text><circle cx="298" cy="594" r="23"/><text x="298" y="603">11</text><circle cx="455" cy="612" r="23"/><text x="455" y="621">10</text><circle cx="582" cy="623" r="23"/><text x="582" y="632">10</text><circle cx="654" cy="603" r="23"/><text x="654" y="612">7</text><circle cx="755" cy="627" r="23"/><text x="755" y="636">7</text><circle cx="831" cy="615" r="23"/><text x="831" y="624">11</text><circle cx="994" cy="624" r="23"/><text x="994" y="633">12</text><circle cx="1106" cy="590" r="23"/><text x="1106" y="599">10</text><circle cx="1221" cy="574" r="23"/><text x="1221" y="583">10</text>
<circle cx="148" cy="697" r="23"/><text x="148" y="706">9</text><circle cx="198" cy="691" r="23"/><text x="198" y="700">9</text><circle cx="268" cy="674" r="23"/><text x="268" y="683">10</text><circle cx="353" cy="660" r="23"/><text x="353" y="669">11</text><circle cx="421" cy="701" r="23"/><text x="421" y="710">7</text><circle cx="487" cy="685" r="23"/><text x="487" y="694">7</text><circle cx="632" cy="721" r="23"/><text x="632" y="730">6</text><circle cx="825" cy="745" r="23"/><text x="825" y="754">8</text><circle cx="944" cy="707" r="23"/><text x="944" y="716">12</text><circle cx="1030" cy="727" r="23"/><text x="1030" y="736">10</text><circle cx="1133" cy="685" r="23"/><text x="1133" y="694">12</text>
<circle cx="226" cy="749" r="23"/><text x="226" y="758">10</text><circle cx="311" cy="755" r="23"/><text x="311" y="764">9</text><circle cx="417" cy="784" r="23"/><text x="417" y="793">6</text><circle cx="698" cy="777" r="23"/><text x="698" y="786">4</text><circle cx="1040" cy="797" r="23"/><text x="1040" y="806">9</text><circle cx="1151" cy="761" r="23"/><text x="1151" y="770">9</text>
<circle cx="252" cy="819" r="23"/><text x="252" y="828">8</text><circle cx="345" cy="862" r="23"/><text x="345" y="871">6</text><circle cx="578" cy="832" r="23"/><text x="578" y="841">5</text><circle cx="666" cy="843" r="23"/><text x="666" y="852">5</text><circle cx="793" cy="836" r="23"/><text x="793" y="845">7</text><circle cx="899" cy="820" r="23"/><text x="899" y="829">10</text><circle cx="966" cy="838" r="23"/><text x="966" y="847">11</text><circle cx="708" cy="889" r="23"/><text x="708" y="898">8</text><circle cx="497" cy="898" r="23"/><text x="497" y="907">7</text><circle cx="588" cy="921" r="23"/><text x="588" y="930">4</text><circle cx="413" cy="940" r="23"/><text x="413" y="949">4</text>
</g>
<rect class="tb" x="25" y="24" width="724" height="46"/><text class="tt" x="33" y="59" textLength="708" lengthAdjust="spacingAndGlyphs">24 órás legerősebb széllökés (m/s)</text>
<use href="#rbox"/><text class="tt" x="966" y="59" textLength="532" lengthAdjust="spacingAndGlyphs">2022. augusztus 10. 06UTC</text>
<rect x="1044" y="911" width="458" height="83" fill="#fff" stroke="#777" stroke-width="2"/>
<rect x="1110" y="920" width="385" height="38" fill="url(#gW)"/>
<text class="lg" x="1075" y="958">m/s</text>
<text class="lg" x="1151" y="982">7</text><text class="lg" x="1195" y="982">12</text><text class="lg" x="1235" y="982">17</text><text class="lg" x="1301" y="982">25</text><text class="lg" x="1358" y="982">33</text>
<use href="#frame"/>
</svg>

<!-- MAP 5 : lightning -->
<svg x="103" y="1271" width="504" height="337" viewBox="9 9 1512 1011" preserveAspectRatio="none">
<use href="#terr"/>
<g filter="url(#bl4)">
<circle cx="1420" cy="500" r="26" fill="url(#storm2)"/>
<circle cx="1490" cy="510" r="30" fill="url(#storm)"/>
<circle cx="1407" cy="555" r="32" fill="url(#storm)"/>
<circle cx="1450" cy="600" r="36" fill="url(#storm)"/>
<circle cx="1495" cy="580" r="30" fill="url(#storm)"/>
<circle cx="1500" cy="640" r="28" fill="url(#storm2)"/>
<circle cx="1360" cy="640" r="28" fill="url(#storm)"/>
<circle cx="1370" cy="690" r="30" fill="url(#storm)"/>
<circle cx="1325" cy="720" r="28" fill="url(#storm)"/>
<circle cx="1410" cy="700" r="30" fill="url(#storm2)"/>
<circle cx="1480" cy="735" r="32" fill="url(#storm)"/>
<circle cx="1500" cy="780" r="30" fill="url(#storm)"/>
<circle cx="1440" cy="770" r="24" fill="url(#storm2)"/>
<circle cx="1300" cy="790" r="26" fill="url(#storm)"/>
<circle cx="1350" cy="820" r="30" fill="url(#storm)"/>
<circle cx="1400" cy="830" r="32" fill="url(#storm)"/>
<circle cx="1440" cy="860" r="30" fill="url(#storm)"/>
<circle cx="1460" cy="820" r="24" fill="url(#storm2)"/>
<circle cx="1250" cy="845" r="26" fill="url(#storm2)"/>
<circle cx="1290" cy="880" r="28" fill="url(#storm)"/>
<circle cx="1230" cy="905" r="24" fill="url(#storm2)"/>
<circle cx="1340" cy="900" r="22" fill="url(#storm2)"/>
<circle cx="1210" cy="950" r="20" fill="url(#storm2)"/>
<circle cx="1280" cy="660" r="16" fill="url(#storm2)"/>
</g>
<use href="#hu" fill="#fdfdfd" stroke="#222" stroke-width="4"/>
<g clip-path="url(#cl)"><use href="#irv"/>
<g fill="#c8c8c0"><ellipse cx="708" cy="643" rx="12" ry="18"/><ellipse cx="1055" cy="638" rx="12" ry="18"/><ellipse cx="1186" cy="613" rx="12" ry="20"/><ellipse cx="800" cy="725" rx="12" ry="26"/></g>
<circle cx="800" cy="763" r="6" fill="#e8d020"/>
</g>
<use href="#lakes"/>
<rect class="tb" x="20" y="23" width="452" height="46"/><text class="tt" x="28" y="58" textLength="436" lengthAdjust="spacingAndGlyphs">24 órás villámsűrűség</text>
<use href="#rbox"/><text class="tt" x="966" y="59" textLength="532" lengthAdjust="spacingAndGlyphs">2022. augusztus 10. 06UTC</text>
<rect x="1120" y="908" width="388" height="85" fill="#fff" stroke="#777" stroke-width="2"/>
<rect x="1235" y="918" width="260" height="38" fill="url(#gL)"/>
<text class="lg" x="1180" y="960" font-size="13">db/10km2</text>
<text class="lg" x="1246" y="982">1</text><text class="lg" x="1280" y="982">5</text><text class="lg" x="1331" y="982">10</text><text class="lg" x="1379" y="982">20</text><text class="lg" x="1431" y="982">50</text><text class="lg" x="1481" y="982">100</text>
<use href="#frame"/>
</svg>

<!-- MAP 6 : pressure -->
<svg x="634" y="1271" width="504" height="337" viewBox="9 9 1512 1011" preserveAspectRatio="none">
<use href="#terr"/>
<use href="#hu" fill="#dbd4a4" stroke="#262626" stroke-width="5"/>
<g clip-path="url(#cl)" fill="none" stroke="#8a8460" stroke-width="2.5">
<use href="#irv" opacity=".5"/>
<path d="M650,390 C760,420 820,420 900,380 S1100,350 1290,370"/>
<path d="M180,760 C400,600 700,560 900,540 S1200,400 1440,220"/>
<path d="M450,820 C700,780 900,760 1100,700 S1250,560 1310,470"/>
<path d="M460,960 C420,880 500,830 640,800"/>
<path d="M1290,110 C1260,160 1230,190 1200,200"/>
</g>
<use href="#lakes"/>
<g class="pr">
<circle cx="721" cy="238" r="14"/><text x="744" y="246">1023</text>
<circle cx="974" cy="240" r="14"/><text x="997" y="248">1023</text>
<circle cx="1217" cy="277" r="14"/><text x="1240" y="285">1022</text>
<circle cx="120" cy="349" r="14"/><text x="143" y="357">1024</text>
<circle cx="650" cy="450" r="14"/><text x="673" y="458">1022</text>
<circle cx="1165" cy="426" r="14"/><text x="1188" y="434">1021</text>
<circle cx="110" cy="510" r="14"/><text x="133" y="518">1023</text>
<circle cx="873" cy="547" r="14"/><text x="896" y="555">1021</text>
<circle cx="775" cy="611" r="14"/><text x="798" y="619">1021</text>
<circle cx="1074" cy="679" r="14"/><text x="1097" y="687">1020</text>
<circle cx="574" cy="718" r="14"/><text x="597" y="726">1021</text>
<circle cx="168" cy="745" r="14"/><text x="191" y="753">1022</text>
<circle cx="845" cy="815" r="14"/><text x="868" y="823">1021</text>
<circle cx="441" cy="896" r="14"/><text x="464" y="904">1021</text>
</g>
<g fill="#30b4e8" stroke="#0a6a9a" stroke-width="1.5">
<path d="M357,358 L371,378 L362,378 L362,410 L352,410 L352,378 L343,378 Z"/>
<path d="M403,578 L417,598 L408,598 L408,630 L398,630 L398,598 L389,598 Z"/>
</g>
<g class="pr"><text x="425" y="396">1023</text><text x="471" y="618">1022</text></g>
<rect class="tb" x="25" y="23" width="617" height="46"/><text class="tt" x="33" y="58" textLength="601" lengthAdjust="spacingAndGlyphs">Tengerszinti légnyomás (hPa)</text>
<use href="#rbox"/><text class="tt" x="966" y="59" textLength="532" lengthAdjust="spacingAndGlyphs">2022. augusztus 10. 00UTC</text>
<rect x="799" y="908" width="713" height="85" fill="#fff" stroke="#777" stroke-width="2"/>
<rect x="840" y="918" width="660" height="37" fill="url(#gH)"/>
<text class="lg" x="816" y="965">hPa</text>
<text class="lg" x="913" y="982">980</text><text class="lg" x="993" y="982">990</text><text class="lg" x="1073" y="982">1000</text><text class="lg" x="1153" y="982">1010</text><text class="lg" x="1233" y="982">1020</text><text class="lg" x="1313" y="982">1030</text><text class="lg" x="1393" y="982">1040</text><text class="lg" x="1472" y="982">1050</text>
<use href="#frame"/>
</svg>

<!-- TABLE 1 -->
<g class="sf">
<line x1="211" y1="534" x2="211" y2="727" stroke="#6e6e6e" stroke-width="2"/>
<line x1="396" y1="534" x2="396" y2="727" stroke="#000" stroke-width="1" stroke-dasharray="1.5,1.5"/>
<line x1="123" y1="563" x2="586" y2="563" stroke="#808080" stroke-width="2.5"/>
<line x1="123" y1="626" x2="586" y2="626" stroke="#000" stroke-width="1" stroke-dasharray="1.5,1.5"/>
<text class="sf tc" x="303" y="554" font-size="18">MIN</text>
<text class="sf tc" x="491" y="554" font-size="18">MAX</text>
<text class="sf tc" x="166" y="588" font-size="17">08. 09.</text>
<text class="sf tc" x="303" y="589" font-size="18" font-weight="bold" fill="#0070c0">21,7 °C</text>
<text class="sf tc" x="491" y="589" font-size="18" font-weight="bold" fill="#ff0000">32,5 °C</text>
<text class="sf tc" x="303" y="617" font-size="13.5" fill="#555">Kékestető</text>
<text class="sf tc" x="491" y="617" font-size="13.5" fill="#222">Elek</text>
<text class="sf tc" x="166" y="652" font-size="18">REKORD</text>
<text class="sf tc" x="303" y="652" font-size="18" font-weight="bold" fill="#0070c0">10,0 °C</text>
<text class="sf tc" x="491" y="652" font-size="18" font-weight="bold" fill="#ff0000">39,5 °C</text>
<text class="sf tc" x="303" y="681" font-size="13.5" fill="#555">Farkasgyepű</text>
<text class="sf tc" x="491" y="681" font-size="13.5" fill="#222">Baja</text>
<text class="sf tc" x="303" y="712" font-size="13.5" fill="#333">1955</text>
<text class="sf tc" x="491" y="712" font-size="13.5" fill="#222">2013</text>
</g>

<!-- TABLE 2 -->
<g class="sf">
<line x1="742" y1="534" x2="742" y2="727" stroke="#6e6e6e" stroke-width="2"/>
<line x1="927" y1="534" x2="927" y2="727" stroke="#000" stroke-width="1" stroke-dasharray="1.5,1.5"/>
<line x1="654" y1="563" x2="1118" y2="563" stroke="#808080" stroke-width="2.5"/>
<line x1="654" y1="626" x2="1118" y2="626" stroke="#000" stroke-width="1" stroke-dasharray="1.5,1.5"/>
<text class="sf tc" x="836" y="554" font-size="18">MIN</text>
<text class="sf tc" x="1023" y="554" font-size="18">MAX</text>
<text class="sf tc" x="697" y="588" font-size="17">08. 09.</text>
<text class="sf tc" x="836" y="589" font-size="18" font-weight="bold" fill="#0070c0">7,7 °C</text>
<text class="sf tc" x="1023" y="589" font-size="18" font-weight="bold" fill="#ff0000">20,9 °C</text>
<text class="sf tc" x="836" y="617" font-size="13.5" fill="#222">Zabar</text>
<text class="sf tc" x="1023" y="617" font-size="13.5" fill="#222">Budapest Lágymányos</text>
<text class="sf tc" x="697" y="652" font-size="18">REKORD</text>
<text class="sf tc" x="836" y="652" font-size="18" font-weight="bold" fill="#0070c0">4,6 °C</text>
<text class="sf tc" x="1023" y="652" font-size="18" font-weight="bold" fill="#ff0000">25,1 °C</text>
<text class="sf tc" x="836" y="681" font-size="13.5" fill="#222">Zabar</text>
<text class="sf tc" x="1023" y="681" font-size="13.5" fill="#222">Pécs</text>
<text class="sf tc" x="836" y="712" font-size="13.5" fill="#222">2005</text>
<text class="sf tc" x="1023" y="712" font-size="13.5" fill="#222">2013</text>
</g>

<!-- TABLE 3 -->
<g class="sf">
<line x1="211" y1="1074" x2="211" y2="1266" stroke="#6e6e6e" stroke-width="2"/>
<line x1="123" y1="1103" x2="397" y2="1103" stroke="#808080" stroke-width="2.5"/>
<line x1="123" y1="1166" x2="397" y2="1166" stroke="#000" stroke-width="1" stroke-dasharray="1.5,1.5"/>
<text class="sf tc" x="303" y="1094" font-size="18">MAX</text>
<text class="sf tc" x="166" y="1128" font-size="17">08. 09.</text>
<text class="sf tc" x="303" y="1129" font-size="18" font-weight="bold" fill="#538135">7,2 mm</text>
<text class="sf tc" x="303" y="1157" font-size="13.5" fill="#222">Üllés</text>
<text class="sf tc" x="166" y="1191" font-size="18">REKORD</text>
<text class="sf tc" x="303" y="1191" font-size="18" font-weight="bold" fill="#538135">141,0 mm</text>
<text class="sf tc" x="303" y="1220" font-size="13.5" fill="#222">Gagybátor</text>
<text class="sf tc" x="303" y="1251" font-size="13.5" fill="#222">2002</text>
</g>

<!-- TABLE 4 -->
<g class="sf">
<line x1="742" y1="1074" x2="742" y2="1266" stroke="#6e6e6e" stroke-width="2"/>
<line x1="654" y1="1103" x2="928" y2="1103" stroke="#808080" stroke-width="2.5"/>
<line x1="654" y1="1166" x2="928" y2="1166" stroke="#000" stroke-width="1" stroke-dasharray="1.5,1.5"/>
<text class="sf tc" x="836" y="1094" font-size="18">MAX</text>
<text class="sf tc" x="697" y="1128" font-size="17">08. 09.</text>
<text class="sf tc" x="836" y="1129" font-size="18" font-weight="bold" fill="#ed7d31">17,0 m/s</text>
<text class="sf tc" x="836" y="1157" font-size="13.5" fill="#222">Gelej</text>
<text class="sf tc" x="697" y="1191" font-size="18">REKORD</text>
<text class="sf tc" x="836" y="1191" font-size="18" font-weight="bold" fill="#ed7d31">28,8 m/s</text>
<text class="sf tc" x="836" y="1220" font-size="13.5" fill="#222">Balatonőszöd</text>
<text class="sf tc" x="836" y="1251" font-size="13.5" fill="#222">2013</text>
</g>

<!-- FOOTER -->
<g fill="none" stroke="url(#logo)" stroke-width="2.2">
<path d="M187.6,1645 A34,34 0 1,0 193,1706.4"/>
<path d="M194.6,1654.8 A29,29 0 1,0 196.5,1697.5"/>
<path d="M180.2,1653.4 A24,24 0 1,0 180.2,1700.6"/>
<path d="M190.6,1664.8 A19,19 0 1,0 188.2,1691.6"/>
<path d="M180.8,1663.8 A14,14 0 1,0 188.1,1684"/>
<path d="M170,1642 A37,37 0 0,0 150,1700"/>
</g>
<text x="208" y="1667" font-size="14.5" fill="#2d3f6b" textLength="84" lengthAdjust="spacingAndGlyphs">ORSZÁGOS</text>
<text x="208" y="1683" font-size="14.5" fill="#2d3f6b" textLength="125" lengthAdjust="spacingAndGlyphs">METEOROLÓGIAI</text>
<text x="208" y="1699" font-size="14.5" fill="#2d3f6b" textLength="86" lengthAdjust="spacingAndGlyphs">SZOLGÁLAT</text>
<text x="425" y="1684" font-size="17.5" fill="#111" textLength="702" lengthAdjust="spacingAndGlyphs">Kiadásért felel: az OMSZ elnöke • Honlap: www.met.hu • Email: metinfo@met.hu</text>
</svg>
</body></html>
